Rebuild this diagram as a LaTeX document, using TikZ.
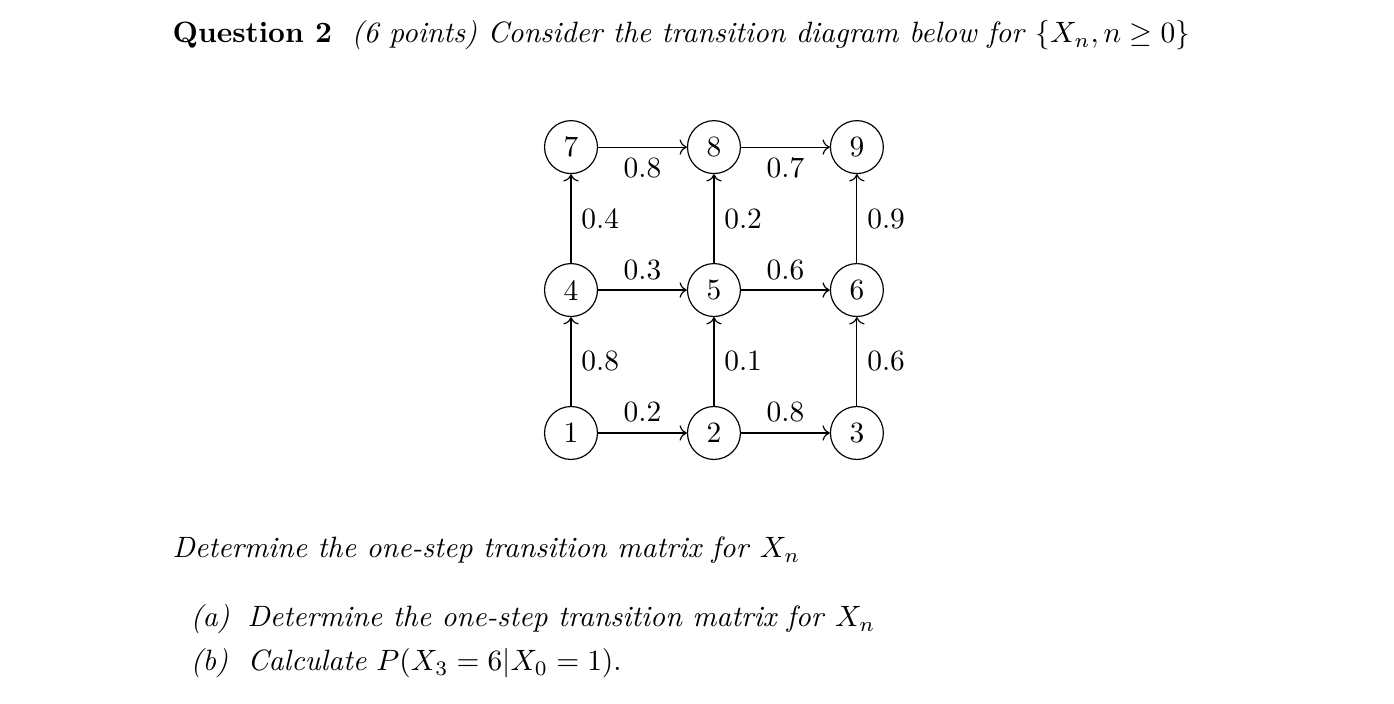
\documentclass[tikz,border=0pt]{standalone}
\usepackage{amsmath,amssymb}
\usetikzlibrary{arrows.meta,positioning}

\begin{document}
\begin{tikzpicture}[x=0.34pt,y=0.34pt,->,
      node distance=48.6pt,on grid,
      every node/.append style={font=\normalsize}]
    \tikzstyle{state} = [circle,draw,minimum size=18pt,inner sep=0pt]
    \tikzstyle{prose} = [anchor=base west,inner sep=0pt]
    \useasboundingbox (0,0) rectangle (1394,704);
    % states
    \node[state] (s1) at (571,271) {1};
    \node[state,right=of s1] (s2) {2};
    \node[state,right=of s2] (s3) {3};
    \node[state,above=of s1] (s4) {4};
    \node[state,right=of s4] (s5) {5};
    \node[state,right=of s5] (s6) {6};
    \node[state,above=of s4] (s7) {7};
    \node[state,right=of s7] (s8) {8};
    \node[state,right=of s8] (s9) {9};
    % transitions
    \draw (s1) -- node[above] {0.2} (s2);
    \draw (s2) -- node[above] {0.8} (s3);
    \draw (s4) -- node[above] {0.3} (s5);
    \draw (s5) -- node[above] {0.6} (s6);
    \draw (s7) -- node[below] {0.8} (s8);
    \draw (s8) -- node[below] {0.7} (s9);
    \draw (s1) -- node[right] {0.8} (s4);
    \draw (s2) -- node[right] {0.1} (s5);
    \draw (s3) -- node[right] {0.6} (s6);
    \draw (s4) -- node[right] {0.4} (s7);
    \draw (s5) -- node[right] {0.2} (s8);
    \draw (s6) -- node[right] {0.9} (s9);
    % question text
    \node[prose] (title) at (172,661) {\textbf{Question 2}\ \ \textit{(6 points) Consider the transition diagram below for} $\{X_n, n\geq 0\}$};
    \node[prose] (task) at (172,146) {\textit{Determine the one-step transition matrix for} $X_n$};
    \node[prose] (parta) at (190,77) {\makebox[19.4pt][l]{\textit{(a)}}\textit{Determine the one-step transition matrix for} $X_n$};
    \node[prose] (partb) at (190,33) {\makebox[19.4pt][l]{\textit{(b)}}\textit{Calculate} $P(X_3=6|X_0=1)$.};
\end{tikzpicture}
\end{document}
